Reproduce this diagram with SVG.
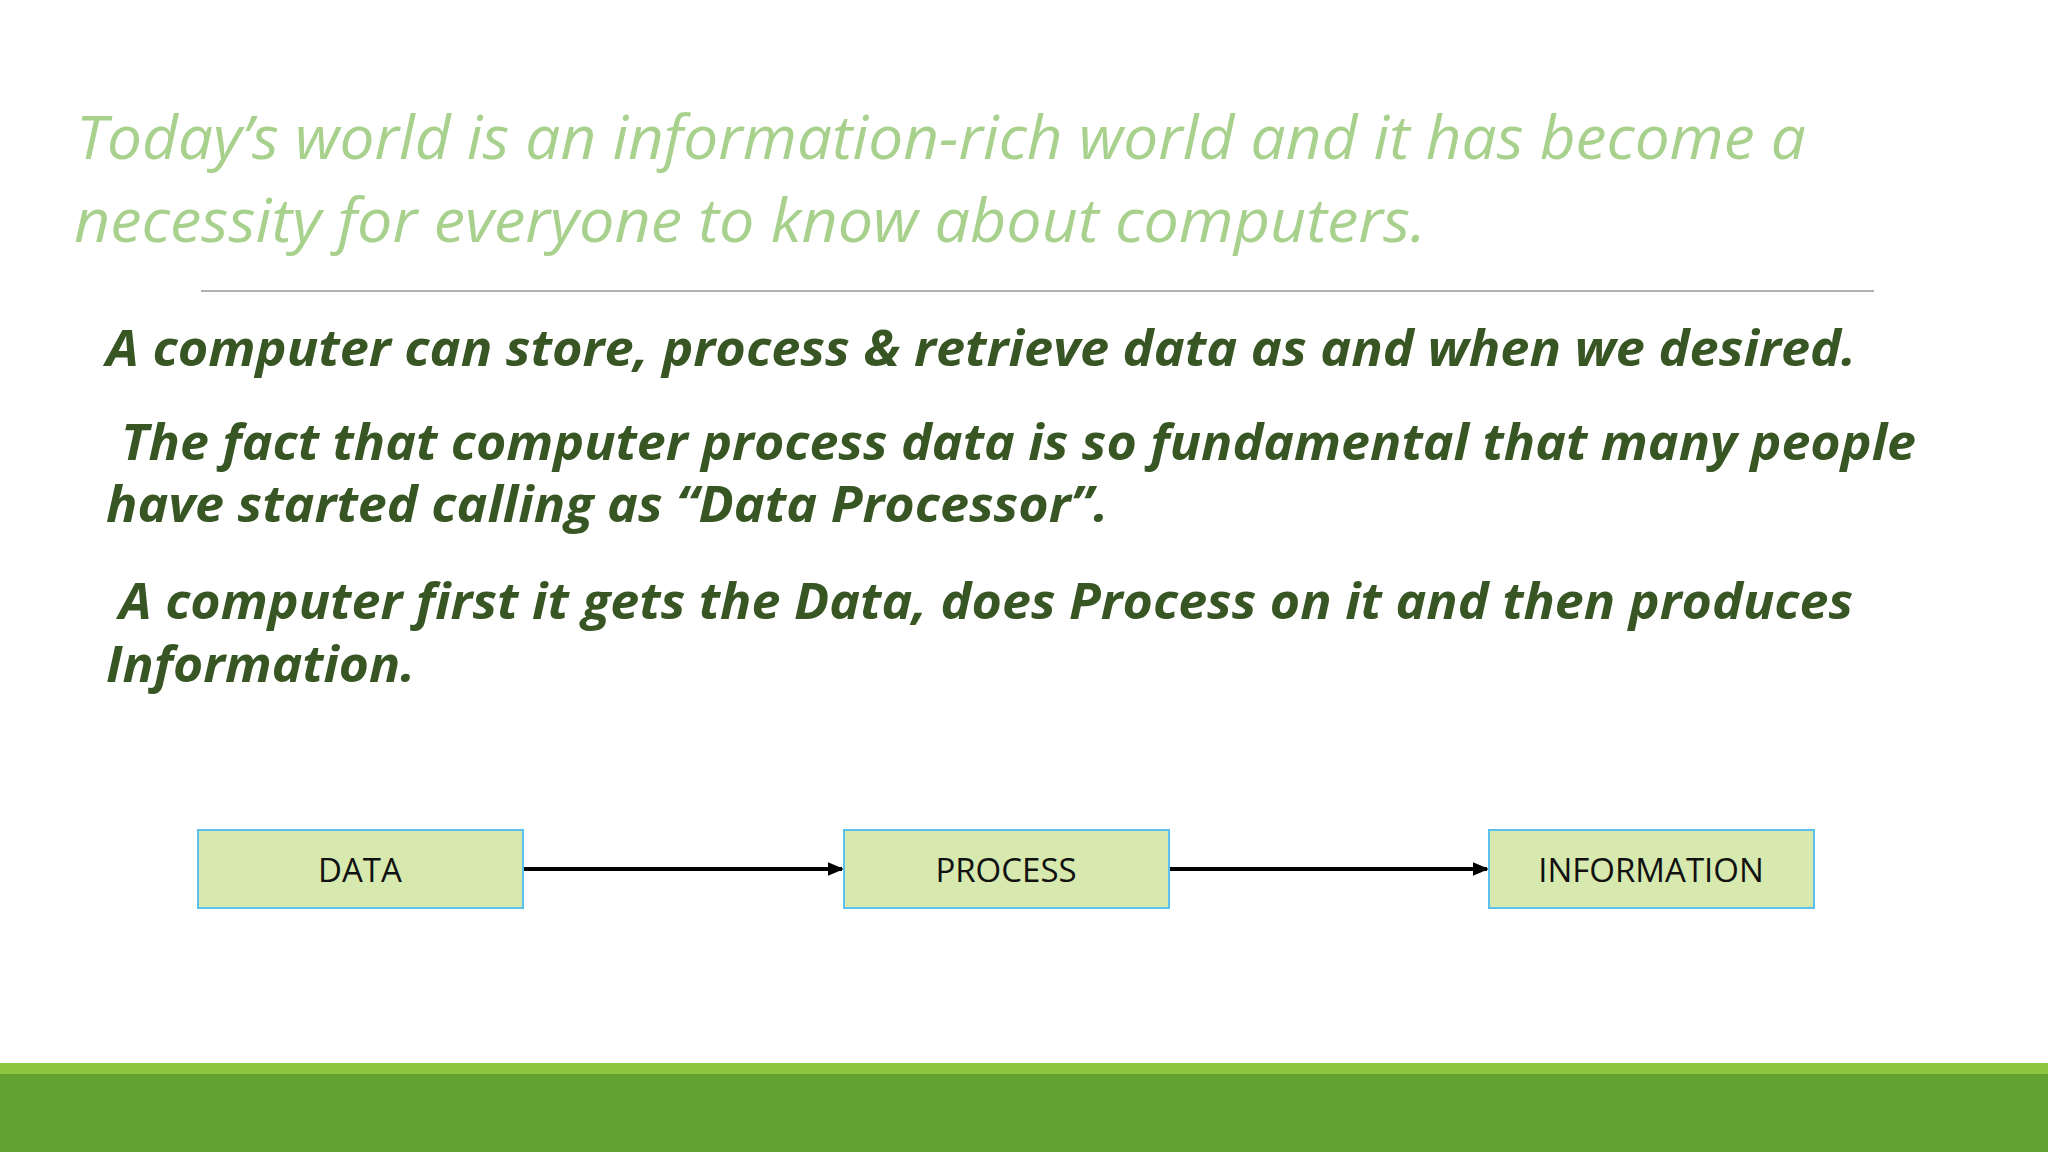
<svg xmlns="http://www.w3.org/2000/svg" width="2048" height="1152" viewBox="0 0 2048 1152">
<defs>
<style>
.t{font-family:"Open Sans","Liberation Sans",sans-serif;font-style:italic;font-weight:400;font-size:60px;fill:#a9d18e}
.b{font-family:"Open Sans","Liberation Sans",sans-serif;font-style:italic;font-weight:700;font-size:50px;fill:#375623}
.box{fill:#d7e9af;stroke:#5bc0eb;stroke-width:2}
.lbl{font-family:"Open Sans","Liberation Sans",sans-serif;font-size:33px;fill:#111;text-anchor:middle}
.c{stroke:#000;stroke-width:4;fill:none;marker-end:url(#ah)}
</style>
<marker id="ah" markerWidth="4" markerHeight="4" refX="3.5" refY="2" orient="auto" markerUnits="strokeWidth"><path d="M0,0.3 L4,2 L0,3.7 z" fill="#000"/></marker>
</defs>
<rect width="2048" height="1152" fill="#fff"/>
<text class="t" x="76" y="159" textLength="1730" lengthAdjust="spacingAndGlyphs">Today’s world is an information-rich world and it has become a</text>
<text class="t" x="74" y="242" textLength="1352" lengthAdjust="spacingAndGlyphs">necessity for everyone to know about computers.</text>
<line x1="201" y1="291" x2="1874" y2="291" stroke="#b0b0b0" stroke-width="2"/>
<text class="b" x="106" y="366" textLength="1750" lengthAdjust="spacingAndGlyphs">A computer can store, process &amp; retrieve data as and when we desired.</text>
<text class="b" x="121" y="460" textLength="1795" lengthAdjust="spacingAndGlyphs">The fact that computer process data is so fundamental that many people</text>
<text class="b" x="106" y="522" textLength="1002" lengthAdjust="spacingAndGlyphs">have started calling as “Data Processor”.</text>
<text class="b" x="119" y="619" textLength="1734" lengthAdjust="spacingAndGlyphs">A computer first it gets the Data, does Process on it and then produces</text>
<text class="b" x="106" y="682" textLength="309" lengthAdjust="spacingAndGlyphs">Information.</text>
<g id="connectors">
<line class="c" x1="523" y1="869" x2="842" y2="869"/>
<line class="c" x1="1169" y1="869" x2="1487" y2="869"/>
</g>
<g id="data"><rect class="box" x="198" y="830" width="325" height="78"/><text class="lbl" x="360" y="882">DATA</text></g>
<g id="process"><rect class="box" x="844" y="830" width="325" height="78"/><text class="lbl" x="1006" y="882">PROCESS</text></g>
<g id="information"><rect class="box" x="1489" y="830" width="325" height="78"/><text class="lbl" x="1651" y="882">INFORMATION</text></g>
<rect x="0" y="1063" width="2048" height="11" fill="#8dc63f"/>
<rect x="0" y="1074" width="2048" height="78" fill="#62a233"/>
</svg>
